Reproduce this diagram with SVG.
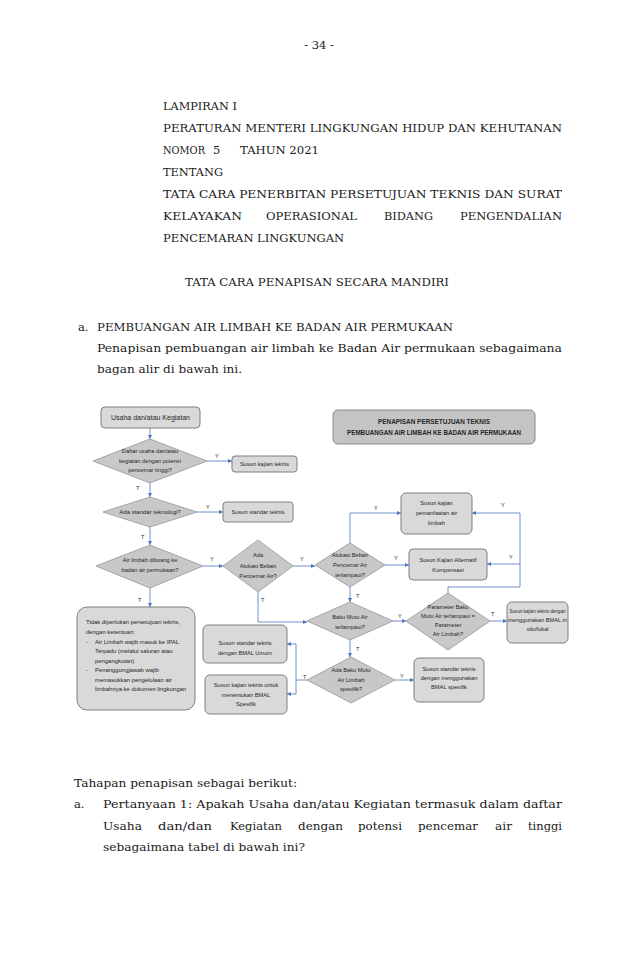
<svg xmlns="http://www.w3.org/2000/svg" width="638" height="976" viewBox="0 0 638 976">
<style>
.doc{font-family:"DejaVu Serif","Liberation Serif",serif;font-size:11.5px;fill:#1a1a1a}
.box{fill:#d9d9d9;stroke:#7f7f7f;stroke-width:1}
.dia{fill:#c8c8c8;stroke:#a5a5a5;stroke-width:1}
.ttl{fill:#c4c4c4;stroke:#8a8a8a;stroke-width:1}
.t{font-family:"Liberation Sans",Arial,sans-serif;font-size:5.7px;fill:#262626;text-anchor:middle}
.tl{font-family:"Liberation Sans",Arial,sans-serif;font-size:5.9px;fill:#262626}
.lb{font-family:"Liberation Sans",Arial,sans-serif;font-size:5.6px;fill:#262626}
.c{fill:none;stroke:#4a76bd;stroke-width:0.8}
</style>
<defs>
<marker id="ah" viewBox="0 0 6 6" refX="6" refY="3" markerWidth="4" markerHeight="4" markerUnits="userSpaceOnUse" orient="auto"><path d="M0,0 L6,3 L0,6 z" fill="#4a76bd"/></marker>
</defs>
<rect width="638" height="976" fill="#ffffff"/>

<!-- document text -->
<g id="doc-text" class="doc">
<text x="319" y="49" text-anchor="middle">- 34 -</text>
<text x="163" y="110" textLength="74" lengthAdjust="spacingAndGlyphs">LAMPIRAN I</text>
<text x="163" y="132" textLength="399" lengthAdjust="spacingAndGlyphs">PERATURAN MENTERI LINGKUNGAN HIDUP DAN KEHUTANAN</text>
<text x="163" y="154" textLength="42" lengthAdjust="spacingAndGlyphs">NOMOR</text>
<text x="213" y="154">5</text>
<text x="240" y="154" textLength="79" lengthAdjust="spacingAndGlyphs">TAHUN 2021</text>
<text x="163" y="176" textLength="60" lengthAdjust="spacingAndGlyphs">TENTANG</text>
<text x="163" y="198" textLength="399" lengthAdjust="spacingAndGlyphs">TATA CARA PENERBITAN PERSETUJUAN TEKNIS DAN SURAT</text>
<text x="163" y="220" textLength="79" lengthAdjust="spacingAndGlyphs">KELAYAKAN</text>
<text x="266" y="220" textLength="91" lengthAdjust="spacingAndGlyphs">OPERASIONAL</text>
<text x="384" y="220" textLength="49" lengthAdjust="spacingAndGlyphs">BIDANG</text>
<text x="460" y="220" textLength="102" lengthAdjust="spacingAndGlyphs">PENGENDALIAN</text>
<text x="163" y="242" textLength="181" lengthAdjust="spacingAndGlyphs">PENCEMARAN LINGKUNGAN</text>
<text x="185" y="286" textLength="264" lengthAdjust="spacingAndGlyphs">TATA CARA PENAPISAN SECARA MANDIRI</text>
<text x="78" y="331">a.</text>
<text x="97" y="331" textLength="356" lengthAdjust="spacingAndGlyphs">PEMBUANGAN AIR LIMBAH KE BADAN AIR PERMUKAAN</text>
<text x="97" y="352" textLength="465" lengthAdjust="spacingAndGlyphs">Penapisan pembuangan air limbah ke Badan Air permukaan sebagaimana</text>
<text x="97" y="373" textLength="145" lengthAdjust="spacingAndGlyphs">bagan alir di bawah ini.</text>
<text x="74" y="787" textLength="223" lengthAdjust="spacingAndGlyphs">Tahapan penapisan sebagai berikut:</text>
<text x="74" y="808">a.</text>
<text x="103" y="808" textLength="459" lengthAdjust="spacingAndGlyphs">Pertanyaan 1: Apakah Usaha dan/atau Kegiatan termasuk dalam daftar</text>
<text x="103" y="830" textLength="39" lengthAdjust="spacingAndGlyphs">Usaha</text>
<text x="158" y="830" textLength="54" lengthAdjust="spacingAndGlyphs">dan/dan</text>
<text x="230" y="830" textLength="52" lengthAdjust="spacingAndGlyphs">Kegiatan</text>
<text x="298" y="830" textLength="45" lengthAdjust="spacingAndGlyphs">dengan</text>
<text x="358" y="830" textLength="44" lengthAdjust="spacingAndGlyphs">potensi</text>
<text x="418" y="830" textLength="60" lengthAdjust="spacingAndGlyphs">pencemar</text>
<text x="495" y="830" textLength="17" lengthAdjust="spacingAndGlyphs">air</text>
<text x="528" y="830" textLength="34" lengthAdjust="spacingAndGlyphs">tinggi</text>
<text x="103" y="851" textLength="202" lengthAdjust="spacingAndGlyphs">sebagaimana tabel di bawah ini?</text>
</g>

<!-- connectors -->
<g id="connectors">
<path class="c" marker-end="url(#ah)" d="M150,428 V439"/>
<path class="c" marker-end="url(#ah)" d="M207,461 H232"/>
<path class="c" marker-end="url(#ah)" d="M150,483 V497"/>
<path class="c" marker-end="url(#ah)" d="M197,512 H223"/>
<path class="c" marker-end="url(#ah)" d="M150,527 V545"/>
<path class="c" marker-end="url(#ah)" d="M203,566 H223"/>
<path class="c" marker-end="url(#ah)" d="M150,588 V607"/>
<path class="c" marker-end="url(#ah)" d="M293,566 H315"/>
<path class="c" marker-end="url(#ah)" d="M258,592 V622 H307"/>
<path class="c" marker-end="url(#ah)" d="M350,543 V513 H401"/>
<path class="c" marker-end="url(#ah)" d="M385,565 H409"/>
<path class="c" marker-end="url(#ah)" d="M350,587 V602"/>
<path class="c" marker-end="url(#ah)" d="M393,621 H406"/>
<path class="c" marker-end="url(#ah)" d="M350,640 V657"/>
<path class="c" marker-end="url(#ah)" d="M395,680 H414"/>
<path class="c" d="M307,680 H296"/>
<path class="c" marker-end="url(#ah)" d="M296,680 V644 H287"/>
<path class="c" marker-end="url(#ah)" d="M296,680 V694 H287"/>
<path class="c" marker-end="url(#ah)" d="M448,593 V587 H520 V513 H472"/>
<path class="c" marker-end="url(#ah)" d="M520,564 H487"/>
<path class="c" marker-end="url(#ah)" d="M490,621 H507"/>
<g class="lb">
<text x="215" y="458">Y</text>
<text x="136" y="490">T</text>
<text x="206" y="509">Y</text>
<text x="141" y="539">T</text>
<text x="210" y="561">Y</text>
<text x="138" y="602">T</text>
<text x="300" y="561">Y</text>
<text x="261" y="602">T</text>
<text x="374" y="510">Y</text>
<text x="394" y="560">Y</text>
<text x="356" y="598">T</text>
<text x="398" y="618">Y</text>
<text x="356" y="651">T</text>
<text x="400" y="678">Y</text>
<text x="303" y="679">T</text>
<text x="491" y="616">T</text>
<text x="501" y="507">Y</text>
<text x="509" y="559">Y</text>
</g>
</g>

<!-- nodes -->
<g id="title">
<rect class="ttl" x="333" y="410" width="202" height="34" rx="5"/>
<text class="t" x="434" y="424" style="font-weight:bold;font-size:7px" textLength="112" lengthAdjust="spacingAndGlyphs">PENAPISAN PERSETUJUAN TEKNIS</text>
<text class="t" x="434" y="435" style="font-weight:bold;font-size:7px" textLength="174" lengthAdjust="spacingAndGlyphs">PEMBUANGAN AIR LIMBAH KE BADAN AIR PERMUKAAN</text>
</g>
<g id="n-usaha">
<rect class="box" x="101" y="407" width="99" height="21" rx="4"/>
<text class="t" x="150.5" y="420" style="font-size:7px">Usaha dan/atau Kegiatan</text>
</g>
<g id="d-daftar">
<polygon class="dia" points="150,439 207,461 150,483 93,461"/>
<text class="t" x="150" y="453">Daftar usaha dan/atau</text>
<text class="t" x="150" y="462.5">kegiatan dengan potensi</text>
<text class="t" x="150" y="472">pencemar tinggi?</text>
</g>
<g id="n-kajian-teknis">
<rect class="box" x="232" y="456" width="65" height="16" rx="3"/>
<text class="t" x="264.5" y="466">Susun kajian teknis</text>
</g>
<g id="d-standar">
<polygon class="dia" points="150,497 197,512 150,527 103,512"/>
<text class="t" x="150" y="514" style="font-size:6px">Ada standar teknologi?</text>
</g>
<g id="n-standar-teknis">
<rect class="box" x="223" y="502" width="70" height="20" rx="3"/>
<text class="t" x="258" y="514">Susun standar teknis</text>
</g>
<g id="d-dibuang">
<polygon class="dia" points="150,545 203,566 150,588 96,566"/>
<text class="t" x="150" y="562">Air limbah dibuang ke</text>
<text class="t" x="150" y="572">badan air permukaan?</text>
</g>
<g id="n-tidak">
<rect class="box" x="77" y="607" width="118" height="103" rx="10"/>
<text class="tl" x="86" y="624">Tidak diperlukan persetujuan teknis,</text>
<text class="tl" x="86" y="634">dengan ketentuan:</text>
<text class="tl" x="86" y="643.5">-</text>
<text class="tl" x="95" y="643.5">Air Limbah wajib masuk ke IPAL</text>
<text class="tl" x="95" y="653">Terpadu (melalui saluran atau</text>
<text class="tl" x="95" y="662.5">pengangkutan)</text>
<text class="tl" x="86" y="672">-</text>
<text class="tl" x="95" y="672">Penanggungjawab wajib</text>
<text class="tl" x="95" y="681.5">memasukkan pengelolaan air</text>
<text class="tl" x="95" y="691" textLength="91" lengthAdjust="spacingAndGlyphs">limbahnya ke dokumen  lingkungan</text>
</g>
<g id="d-alokasi">
<polygon class="dia" points="258,540 293,566 258,592 223,566"/>
<text class="t" x="258" y="557">Ada</text>
<text class="t" x="258" y="567.5">Alokasi Beban</text>
<text class="t" x="258" y="578">Pencemar Air?</text>
</g>
<g id="d-terlampaui">
<polygon class="dia" points="350,543 385,565 350,587 315,565"/>
<text class="t" x="350" y="557">Alokasi Beban</text>
<text class="t" x="350" y="567">Pencemar Air</text>
<text class="t" x="350" y="577">terlampaui?</text>
</g>
<g id="n-pemanfaatan">
<rect class="box" x="401" y="493" width="71" height="41" rx="5"/>
<text class="t" x="436.5" y="505">Susun kajian</text>
<text class="t" x="436.5" y="515">pemanfaatan air</text>
<text class="t" x="436.5" y="525">limbah</text>
</g>
<g id="n-alternatif">
<rect class="box" x="409" y="549" width="78" height="31" rx="4"/>
<text class="t" x="448" y="562">Susun Kajian Alternatif</text>
<text class="t" x="448" y="572">Kompensasi</text>
</g>
<g id="d-bakumutu">
<polygon class="dia" points="350,602 393,621 350,640 307,621"/>
<text class="t" x="350" y="619">Baku Mutu  Air</text>
<text class="t" x="350" y="629">terlampaui?</text>
</g>
<g id="d-parameter">
<polygon class="dia" points="448,593 490,621 448,650 406,621"/>
<text class="t" x="448" y="609">Parameter Baku</text>
<text class="t" x="448" y="618">Mutu Air terlampaui =</text>
<text class="t" x="448" y="627">Parameter</text>
<text class="t" x="448" y="636">Air Limbah?</text>
</g>
<g id="n-situ">
<rect class="box" x="507" y="602" width="61" height="41" rx="5"/>
<text class="t" x="537.5" y="613" textLength="56" lengthAdjust="spacingAndGlyphs">Susun kajian teknis dengan</text>
<text class="t" x="537.5" y="622">menggunakan BMAL <tspan font-style="italic">in</tspan></text>
<text class="t" x="537.5" y="631"><tspan font-style="italic">situ</tspan>/lokal</text>
</g>
<g id="d-spesifik">
<polygon class="dia" points="351,657 395,680 351,703 307,680"/>
<text class="t" x="351" y="672">Ada Baku Mutu</text>
<text class="t" x="351" y="681.5">Air Limbah</text>
<text class="t" x="351" y="691">spesifik?</text>
</g>
<g id="n-bmal-spesifik-std">
<rect class="box" x="414" y="658" width="70" height="44" rx="5"/>
<text class="t" x="449" y="671">Susun standar teknis</text>
<text class="t" x="449" y="680">dengan menggunakan</text>
<text class="t" x="449" y="689">BMAL spesifik</text>
</g>
<g id="n-bmal-umum">
<rect class="box" x="203" y="625" width="84" height="38" rx="5"/>
<text class="t" x="245" y="645">Susun standar teknis</text>
<text class="t" x="245" y="655">dengan BMAL Umum</text>
</g>
<g id="n-bmal-kajian">
<rect class="box" x="205" y="675" width="82" height="39" rx="5"/>
<text class="t" x="246" y="687">Susun kajian teknis untuk</text>
<text class="t" x="246" y="696.5">menentukan  BMAL</text>
<text class="t" x="246" y="706">Spesifik</text>
</g>
</svg>
